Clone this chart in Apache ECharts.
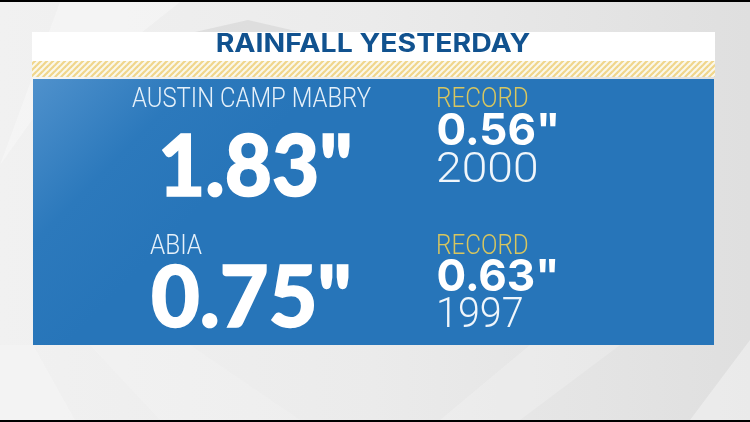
<!DOCTYPE html>
<html><head><meta charset="utf-8">
<style>html,body{margin:0;padding:0;background:#e8e8e8}#c{width:750px;height:422px}</style>
<script src="https://cdn.jsdelivr.net/npm/echarts@6/dist/echarts.min.js"></script></head>
<body><div id="c"></div>
<script>
const titleText = 'RAINFALL YESTERDAY';
const stations = ['AUSTIN CAMP MABRY', 'ABIA'];
const rainfall = ['1.83"', '0.75"'];
const recordLabels = ['RECORD', 'RECORD'];
const recordValues = ['0.56"', '0.63"'];
const recordYears = ['2000', '1997'];

const chart = echarts.init(document.getElementById('c'), null, {renderer:'canvas'});
const stripe = document.createElement('canvas');
stripe.width = 6; stripe.height = 6;
(function(){
  const g = stripe.getContext('2d');
  g.fillStyle = '#fbf8ec'; g.fillRect(0,0,6,6);
  g.strokeStyle = '#f0d68c'; g.lineWidth = 2.2;
  [[-1,7,7,-1],[-7,7,1,-1],[5,7,13,-1]].forEach(function(s){
    g.beginPath(); g.moveTo(s[0],s[1]); g.lineTo(s[2],s[3]); g.stroke();
  });
})();
const LATO = 'Lato, sans-serif', ROBOTO = 'Roboto, sans-serif', INTER = 'Inter, sans-serif';
function txt(x,y,t,size,weight,fill,family,sx,align,stroke){
  const style = {text:t,fontSize:size,fontWeight:weight,fill:fill,fontFamily:family,verticalAlign:'middle',align:align||'left'};
  if (stroke) { style.stroke = fill; style.lineWidth = stroke; }
  return {type:'text',x:x,y:y,scaleX:sx||1,silent:true,style:style};
}
function poly(points,fill){return {type:'polygon',silent:true,shape:{points:points},style:{fill:fill}};}
const els = [
  {type:'rect',shape:{x:0,y:0,width:750,height:422},style:{fill:{type:'linear',x:0,y:0,x2:1,y2:0,colorStops:[{offset:0,color:'#f1f1f1'},{offset:0.5,color:'#ebebeb'},{offset:1,color:'#dfdfdf'}]}}},
  poly([[0,165],[60,2],[180,2],[32,120]],'rgba(255,255,255,0.3)'),
  poly([[0,345],[33,345],[75,420],[0,420]],'rgba(255,255,255,0.2)'),
  poly([[90,345],[190,345],[300,420],[160,420]],'rgba(255,255,255,0.12)'),
  poly([[530,345],[620,345],[520,420],[440,420]],'rgba(255,255,255,0.2)'),
  poly([[750,340],[750,420],[690,420]],'rgba(255,255,255,0.35)'),
  poly([[195,32],[248,20],[300,32]],'rgba(190,190,190,0.3)'),
  {type:'rect',shape:{x:0,y:0,width:750,height:2},style:{fill:'#000'}},
  {type:'rect',shape:{x:0,y:420,width:750,height:2},style:{fill:'#000'}},
  {type:'rect',shape:{x:32,y:32,width:683,height:29},style:{fill:'#fff'}},
  {type:'rect',shape:{x:32,y:61,width:683,height:16},style:{fill:{image:stripe,repeat:'repeat'}}},
  {type:'rect',shape:{x:33,y:79,width:681,height:266},style:{fill:{type:'linear',x:0,y:0,x2:0.22,y2:0.55,colorStops:[{offset:0,color:'#4f91cc'},{offset:0.55,color:'#2c79bc'},{offset:1,color:'#2775b9'}]}}},
  txt(373,44,titleText,25,700,'#11528f',INTER,1.138,'center'),
  txt(132,99.5,stations[0],28,300,'#e6f1fa',ROBOTO,0.853),
  txt(436,99.5,recordLabels[0],28,300,'#d8c65f',ROBOTO,0.867),
  txt(436.5,132,recordValues[0],44,700,'#ffffff',INTER),
  txt(436,171,recordYears[0],42,300,'#f0f6fb',ROBOTO,1.1),
  txt(158,169,rainfall[0],85,900,'#ffffff',LATO,0.96,'left',1.5),
  txt(150,246.5,stations[1],28,300,'#e6f1fa',ROBOTO,0.87),
  txt(436,246.5,recordLabels[1],28,300,'#d8c65f',ROBOTO,0.867),
  txt(436.5,277.5,recordValues[1],44,700,'#ffffff',INTER),
  txt(436,316,recordYears[1],42,300,'#f0f6fb',ROBOTO,0.94),
  txt(151,299.5,rainfall[1],85,900,'#ffffff',LATO,0.99,'left',1.5)
];
chart.setOption({animation:false,graphic:{elements:els}});
</script></body></html>
